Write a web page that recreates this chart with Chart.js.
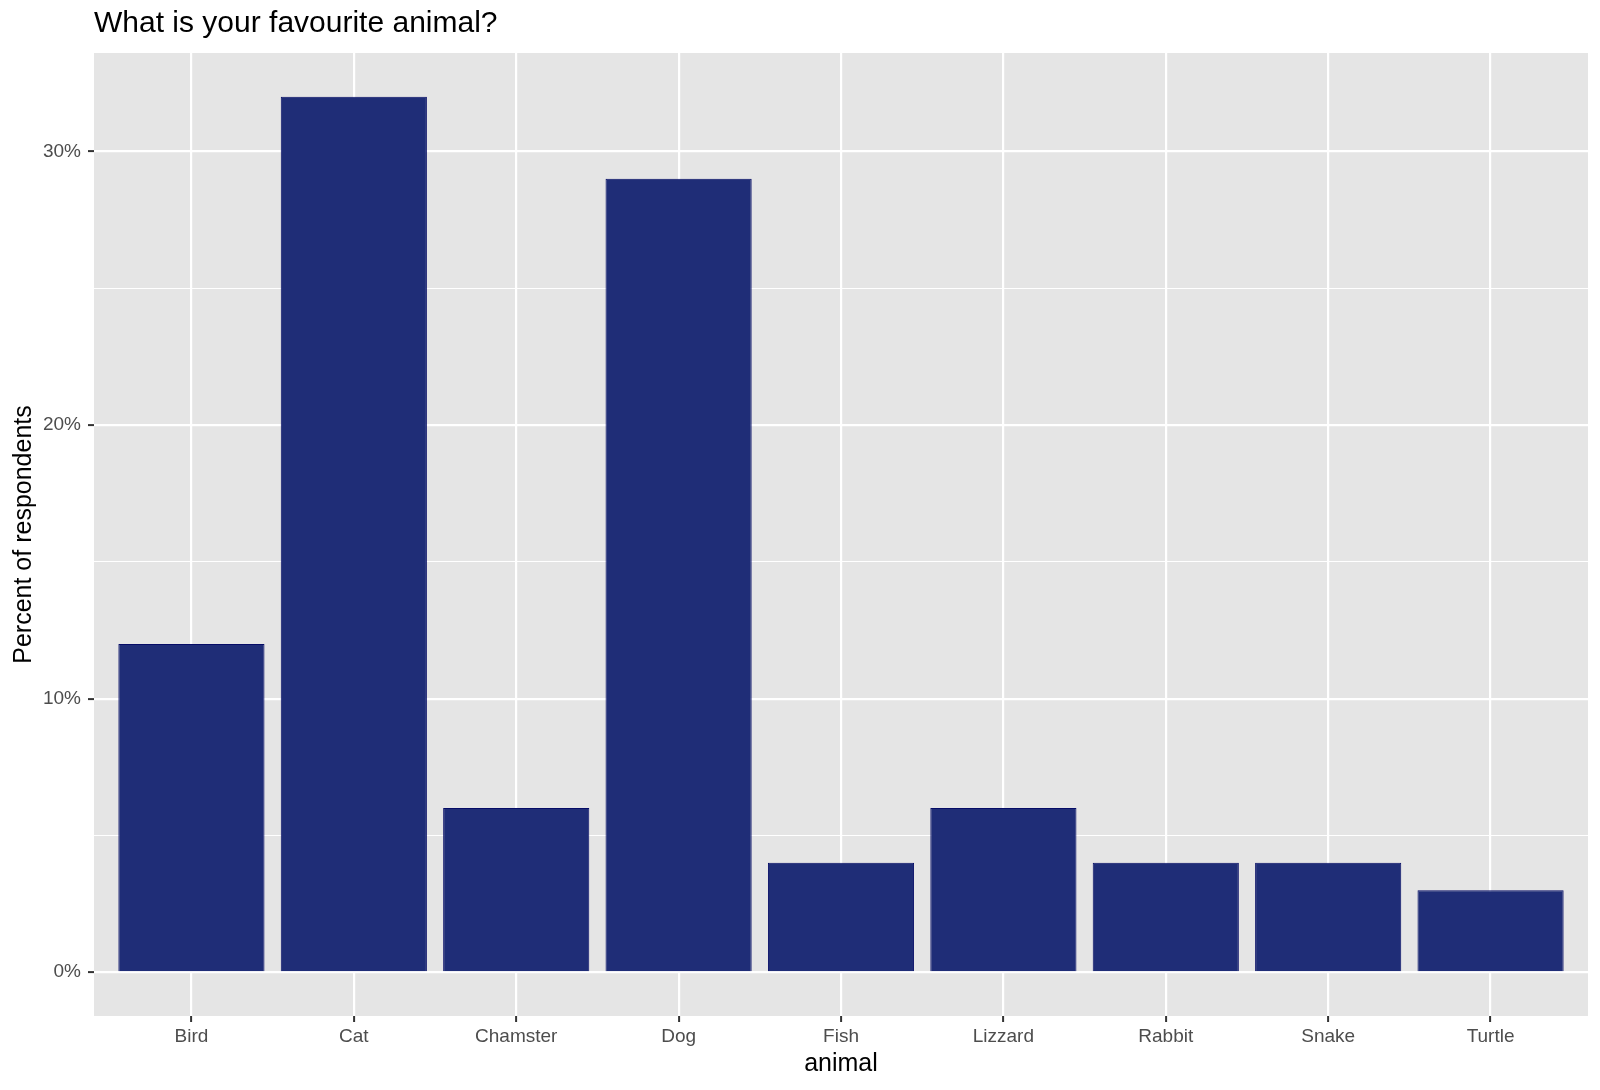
<!DOCTYPE html>
<html>
<head>
<meta charset="utf-8">
<title>What is your favourite animal?</title>
<script src="https://cdn.jsdelivr.net/npm/chart.js@4"></script>
<style>
    body { margin: 0; background: #ffffff; }
    canvas { display: block; }
</style>
</head>
<body>
<canvas id="animalChart" width="1600" height="1090"></canvas>
<script>
// Chart data
const animals = ['Bird', 'Cat', 'Chamster', 'Dog', 'Fish', 'Lizzard', 'Rabbit', 'Snake', 'Turtle'];
const percents = [12, 32, 6, 29, 4, 6, 4, 4, 3];
const yTicks = [0, 5, 10, 15, 20, 25, 30];
const yLabeled = [0, 10, 20, 30];

const FONT = '"Liberation Sans", Arial, Helvetica, sans-serif';

// Grey panel behind the plot, like ggplot
const panelBackground = {
    id: 'panelBackground',
    beforeDraw(chart) {
        const { ctx, chartArea } = chart;
        ctx.save();
        ctx.fillStyle = '#e5e5e5';
        ctx.fillRect(chartArea.left, chartArea.top,
            chartArea.right - chartArea.left, chartArea.bottom - chartArea.top);
        ctx.restore();
    }
};

function isMajor(value) {
    return yLabeled.includes(value);
}

const ctx = document.getElementById('animalChart').getContext('2d');

new Chart(ctx, {
    type: 'bar',
    data: {
        datasets: [{
            label: 'Percent of respondents',
            data: percents.map((v, i) => ({ x: i + 1, y: v })),
            backgroundColor: '#1f2d77',
            borderColor: '#060c66',
            borderWidth: 1,
            barPercentage: 0.9,
            categoryPercentage: 1
        }]
    },
    options: {
        responsive: false,
        animation: false,
        devicePixelRatio: 1,
        layout: {
            padding: { left: 0, right: 12, top: 0, bottom: 0 }
        },
        plugins: {
            legend: { display: false },
            tooltip: { enabled: false },
            title: {
                display: true,
                text: 'What is your favourite animal?',
                align: 'start',
                fullSize: false,
                color: '#000000',
                font: { family: FONT, size: 30, weight: 'normal' },
                padding: { top: 6, bottom: 11 }
            }
        },
        scales: {
            x: {
                type: 'linear',
                min: 0.4,
                max: 9.6,
                offset: false,
                afterBuildTicks: axis => {
                    axis.ticks = animals.map((a, i) => ({ value: i + 1 }));
                },
                afterFit: axis => {
                    axis.height = 74;
                },
                ticks: {
                    autoSkip: false,
                    maxRotation: 0,
                    padding: 3,
                    color: '#4d4d4d',
                    font: { family: FONT, size: 19 },
                    callback: value => animals[value - 1] || ''
                },
                grid: {
                    offset: false,
                    color: '#ffffff',
                    lineWidth: 2.2,
                    drawTicks: true,
                    tickLength: 6,
                    tickColor: '#333333',
                    tickWidth: 2
                },
                border: { display: false },
                title: {
                    display: true,
                    text: 'animal',
                    color: '#000000',
                    font: { family: FONT, size: 25 },
                    padding: { top: 0, bottom: 11 }
                }
            },
            y: {
                min: -1.6,
                max: 33.6,
                afterBuildTicks: axis => {
                    axis.ticks = yTicks.map(v => ({ value: v }));
                },
                afterFit: axis => {
                    axis.width = 94;
                },
                ticks: {
                    padding: 7,
                    color: '#4d4d4d',
                    font: { family: FONT, size: 19 },
                    callback: value => isMajor(value) ? value + '%' : ''
                },
                grid: {
                    color: '#ffffff',
                    lineWidth: c => isMajor(c.tick.value) ? 2.2 : 1.1,
                    drawTicks: true,
                    tickLength: 6,
                    tickColor: c => isMajor(c.tick.value) ? '#333333' : 'rgba(0,0,0,0)',
                    tickWidth: 2
                },
                border: { display: false },
                title: {
                    display: true,
                    text: 'Percent of respondents',
                    color: '#000000',
                    font: { family: FONT, size: 25 },
                    padding: { top: 9.5, bottom: 0 }
                }
            }
        }
    },
    plugins: [panelBackground]
});
</script>
</body>
</html>
